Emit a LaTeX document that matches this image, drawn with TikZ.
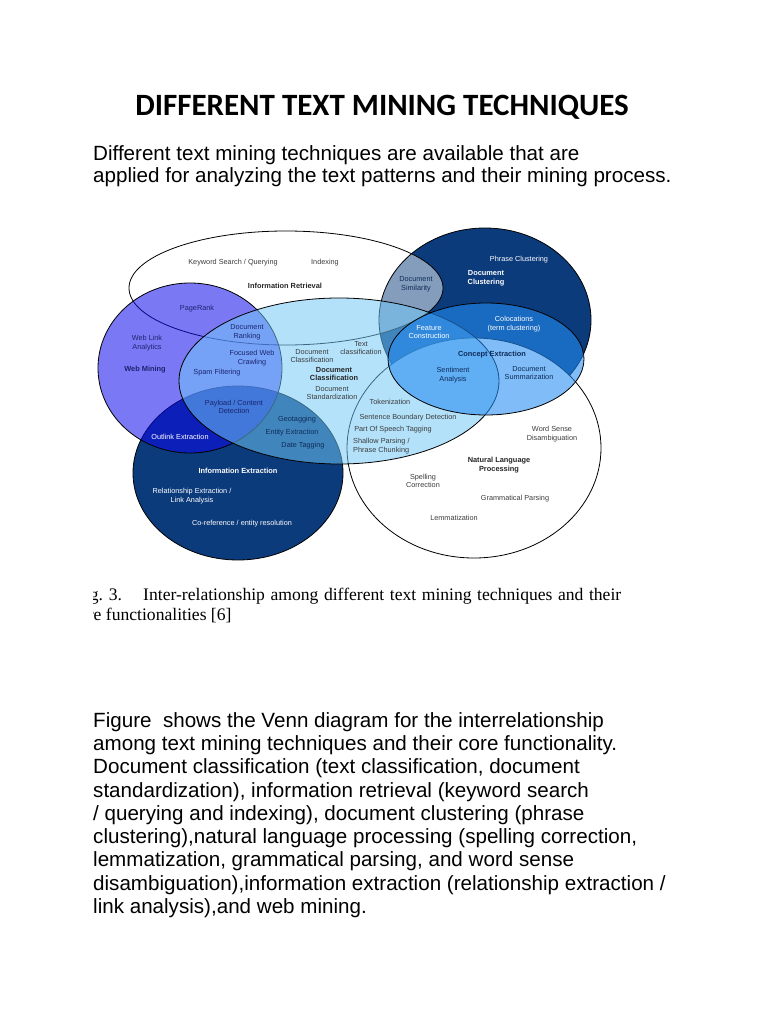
\documentclass[tikz,border=0pt]{standalone}
\usepackage{fontspec}
\setmainfont{Liberation Sans}
\newfontfamily\headfont{Carlito}
\newfontfamily\capfont{Liberation Serif}
\usetikzlibrary{positioning}
\definecolor{setnavy}{HTML}{0C3B7C}
\definecolor{webblue}{HTML}{0F09EC}
\definecolor{docblue}{HTML}{71C8F7}
\definecolor{conblue}{HTML}{248CF3}
\definecolor{lbltext}{HTML}{3C3C3C}
\definecolor{webtext}{HTML}{1C2470}
\definecolor{deeptext}{HTML}{0E2C58}

\begin{document}
\begin{tikzpicture}[x=1pt,y=-1pt]
	\tikzstyle{lbl}=[font=\fontsize{7.3}{8.6}\selectfont,align=center,text=lbltext,inner sep=0pt]
	\tikzstyle{headlbl}=[lbl,font=\fontsize{7.4}{8.8}\selectfont\bfseries,text=black!85]
	\tikzstyle{vennline}=[draw=black,line width=0.8pt]
	\tikzstyle{bodytxt}=[font=\fontsize{20.6}{22.5}\selectfont,align=left,inner sep=0pt]
	\tikzstyle{captxt}=[font=\capfont\fontsize{17.6}{20}\selectfont,inner sep=0pt]
	\useasboundingbox (0,0) rectangle (768,1024);

	% heading and text above the figure
	\node[font=\headfont\bfseries\fontsize{31}{36}\selectfont,anchor=base,inner sep=0pt] (title) at (382,116) {DIFFERENT TEXT MINING TECHNIQUES};
	\node[bodytxt,anchor=north west] (intro) at (93,145) {Different text mining techniques are available that are\\applied for analyzing the text patterns and their mining process.};

	% the sets, back to front
	\filldraw[fill=setnavy,vennline] (238,473) ellipse (105pt and 87pt);
	\fill[setnavy] (485,320) ellipse (106pt and 92pt);
	\fill[white,fill opacity=0.5] (286,288) ellipse (157pt and 57pt);
	\draw[vennline] (485,320) ellipse (106pt and 92pt);
	\draw[vennline] (286,288) ellipse (157pt and 57pt);
	\filldraw[fill=white,vennline] (474,448) ellipse (127pt and 110pt);
	\filldraw[fill=webblue,fill opacity=0.55,vennline] (190,368) ellipse (92pt and 85pt);
	\filldraw[fill=docblue,fill opacity=0.53,vennline] (339,381) ellipse (160pt and 83pt);
	\filldraw[fill=conblue,fill opacity=0.58,vennline] (486,359) ellipse (98pt and 56pt);

	% information retrieval
	\node[lbl] (kw) at (233,263) {Keyword Search / Querying};
	\node[lbl] (idx) at (325,263) {Indexing};
	\node[headlbl] (irhead) at (285,286) {Information Retrieval};
	\node[lbl,text=deeptext] (simi) at (416,284) {Document\\Similarity};
	% document clustering
	\node[lbl,text=white] (phr) at (519,260) {Phrase Clustering};
	\node[headlbl,text=white] (cluhead) at (486,278) {Document\\Clustering};
	\node[lbl,text=white] (coloc) at (514,324) {Colocations\\(term clustering)};
	\node[lbl,text=white] (feat) at (429,332) {Feature\\Construction};
	\node[headlbl,text=deeptext] (conhead) at (492,355) {Concept Extraction};
	\node[lbl,text=deeptext] (senti) at (453,375) {Sentiment\\Analysis};
	\node[lbl,text=deeptext] (summ) at (529,373) {Document\\Summarization};
	% web mining
	\node[lbl,text=webtext] (pager) at (197,309) {PageRank};
	\node[lbl,text=webtext] (rank) at (247,332) {Document\\Ranking};
	\node[lbl,text=webtext] (wla) at (147,343) {Web Link\\Analytics};
	\node[lbl,text=webtext] (focus) at (252,358) {Focused Web\\Crawling};
	\node[headlbl,text=webtext] (wmhead) at (145,370) {Web Mining};
	\node[lbl,text=webtext] (spam) at (217,373) {Spam Filtering};
	% document classification
	\node[lbl] (dcl) at (312,356) {Document\\Classification};
	\node[lbl] (txtc) at (361,348) {Text\\classification};
	\node[headlbl] (dchead) at (334,374) {Document\\Classification};
	\node[lbl] (dstd) at (332,393) {Document\\Standardization};
	\node[lbl,text=webtext] (payl) at (234,407) {Payload / Content\\Detection};
	\node[lbl,text=deeptext] (geo) at (297,420) {Geotagging};
	\node[lbl,text=deeptext] (entx) at (292,433) {Entity Extraction};
	\node[lbl,text=deeptext] (date) at (303,446) {Date Tagging};
	% information extraction
	\node[lbl,text=white] (outl) at (180,437) {Outlink Extraction};
	\node[headlbl,text=white] (iehead) at (238,471) {Information Extraction};
	\node[lbl,text=white] (relx) at (192,496) {Relationship Extraction /\\Link Analysis};
	\node[lbl,text=white] (coref) at (242,524) {Co-reference / entity resolution};
	% natural language processing
	\node[lbl] (tok) at (390,402) {Tokenization};
	\node[lbl] (sbd) at (408,418) {Sentence Boundary Detection};
	\node[lbl] (pos) at (393,430) {Part Of Speech Tagging};
	\node[lbl,align=left,anchor=west] (shal) at (353,446) {Shallow Parsing /\\Phrase Chunking};
	\node[lbl] (wsd) at (552,434) {Word Sense\\Disambiguation};
	\node[headlbl] (nlphead) at (499,465) {Natural Language\\Processing};
	\node[lbl] (spell) at (423,481) {Spelling\\Correction};
	\node[lbl] (gram) at (515,499) {Grammatical Parsing};
	\node[lbl] (lemma) at (454,518) {Lemmatization};

	% caption, cut at the left as in the page
	\begin{scope}
		\clip (93,575) rectangle (660,630);
		\node[captxt,anchor=base west] (figno) at (75,600) {Fig. 3.};
		\node[captxt,anchor=base west] (capline) at (143,600) {\makebox[478pt][s]{Inter-relationship among different text mining techniques and their}};
		\node[captxt,anchor=base west] (capend) at (71,620) {core functionalities [6]};
	\end{scope}

	% text below the figure
	\node[bodytxt,font=\fontsize{20.6}{23.3}\selectfont,anchor=north west] (summary) at (93,712) {Figure\ \ shows the Venn diagram for the interrelationship\\among text mining techniques and their core functionality.\\Document classification (text classification, document\\standardization), information retrieval (keyword search\\/ querying and indexing), document clustering (phrase\\clustering),natural language processing (spelling correction,\\lemmatization, grammatical parsing, and word sense\\disambiguation),information extraction (relationship extraction /\\link analysis),and web mining.};
\end{tikzpicture}
\end{document}
